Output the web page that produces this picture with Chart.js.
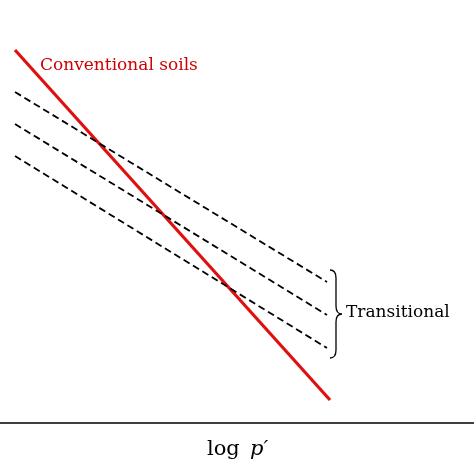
<!DOCTYPE html>
<html><head><meta charset="utf-8">
<script src="https://cdn.jsdelivr.net/npm/chart.js@4"></script>
<style>html,body{margin:0;padding:0;background:#fff}#w{width:474px;height:474px}</style>
</head><body><div id="w"><canvas id="c"></canvas></div>
<script>
// Schematic: x = log p' (arbitrary units), y = void ratio (arbitrary units, larger = higher)
const conventionalX = [15, 330];
const conventionalY = [424, 74];
const transX = [15, 327];
const trans1Y = [382, 192];
const trans2Y = [350, 159];
const trans3Y = [318, 126];
const axisX = [0, 474];
const axisY = [51, 51];
const labels = {conventional: "Conventional soils", transitional: "Transitional", xTitle: "log p′"};

const pts = (xs, ys) => xs.map((x, i) => ({x, y: ys[i]}));
const dash = d => ({data: pts(transX, d), borderColor: '#000', borderWidth: 1.8, borderDash: [7, 4], pointRadius: 0, fill: false});

const annot = {
  id: 'annot',
  afterDraw(ch) {
    const {ctx, scales: {x, y}} = ch;
    ctx.save();
    ctx.font = '17px "DejaVu Serif", serif';
    ctx.textBaseline = 'middle';
    ctx.fillStyle = '#d00000';
    ctx.fillText(labels.conventional, x.getPixelForValue(40), y.getPixelForValue(408));
    ctx.fillStyle = '#000';
    ctx.fillText(labels.transitional, x.getPixelForValue(346), y.getPixelForValue(161));
    // brace
    const bx = x.getPixelForValue(330), top = y.getPixelForValue(204), bot = y.getPixelForValue(116), mid = (top + bot) / 2;
    ctx.lineWidth = 1.3; ctx.strokeStyle = '#000';
    ctx.beginPath();
    ctx.moveTo(bx, top);
    ctx.quadraticCurveTo(bx + 6, top, bx + 6, top + 8);
    ctx.lineTo(bx + 6, mid - 8);
    ctx.quadraticCurveTo(bx + 6, mid, bx + 12, mid);
    ctx.quadraticCurveTo(bx + 6, mid, bx + 6, mid + 8);
    ctx.lineTo(bx + 6, bot - 8);
    ctx.quadraticCurveTo(bx + 6, bot, bx, bot);
    ctx.stroke();
    // x title
    ctx.font = '21px "DejaVu Serif", serif';
    ctx.textAlign = 'left';
    const ty = y.getPixelForValue(24);
    ctx.fillText('log', x.getPixelForValue(207), ty);
    ctx.font = 'italic 21px "DejaVu Serif", serif';
    ctx.fillText('p′', x.getPixelForValue(250), ty);
    ctx.restore();
  }
};

new Chart(document.getElementById('c'), {
  type: 'line',
  data: {datasets: [
    {data: pts(axisX, axisY), borderColor: '#000', borderWidth: 1.3, pointRadius: 0},
    dash(trans1Y), dash(trans2Y), dash(trans3Y),
    {data: pts(conventionalX, conventionalY), borderColor: '#e01010', borderWidth: 3.2, pointRadius: 0}
  ]},
  options: {
    responsive: true, maintainAspectRatio: false, animation: false,
    layout: {padding: 0},
    plugins: {legend: {display: false}, tooltip: {enabled: false}},
    scales: {
      x: {type: 'linear', min: 0, max: 474, display: false},
      y: {type: 'linear', min: 0, max: 474, display: false}
    }
  },
  plugins: [annot]
});
</script></body></html>
